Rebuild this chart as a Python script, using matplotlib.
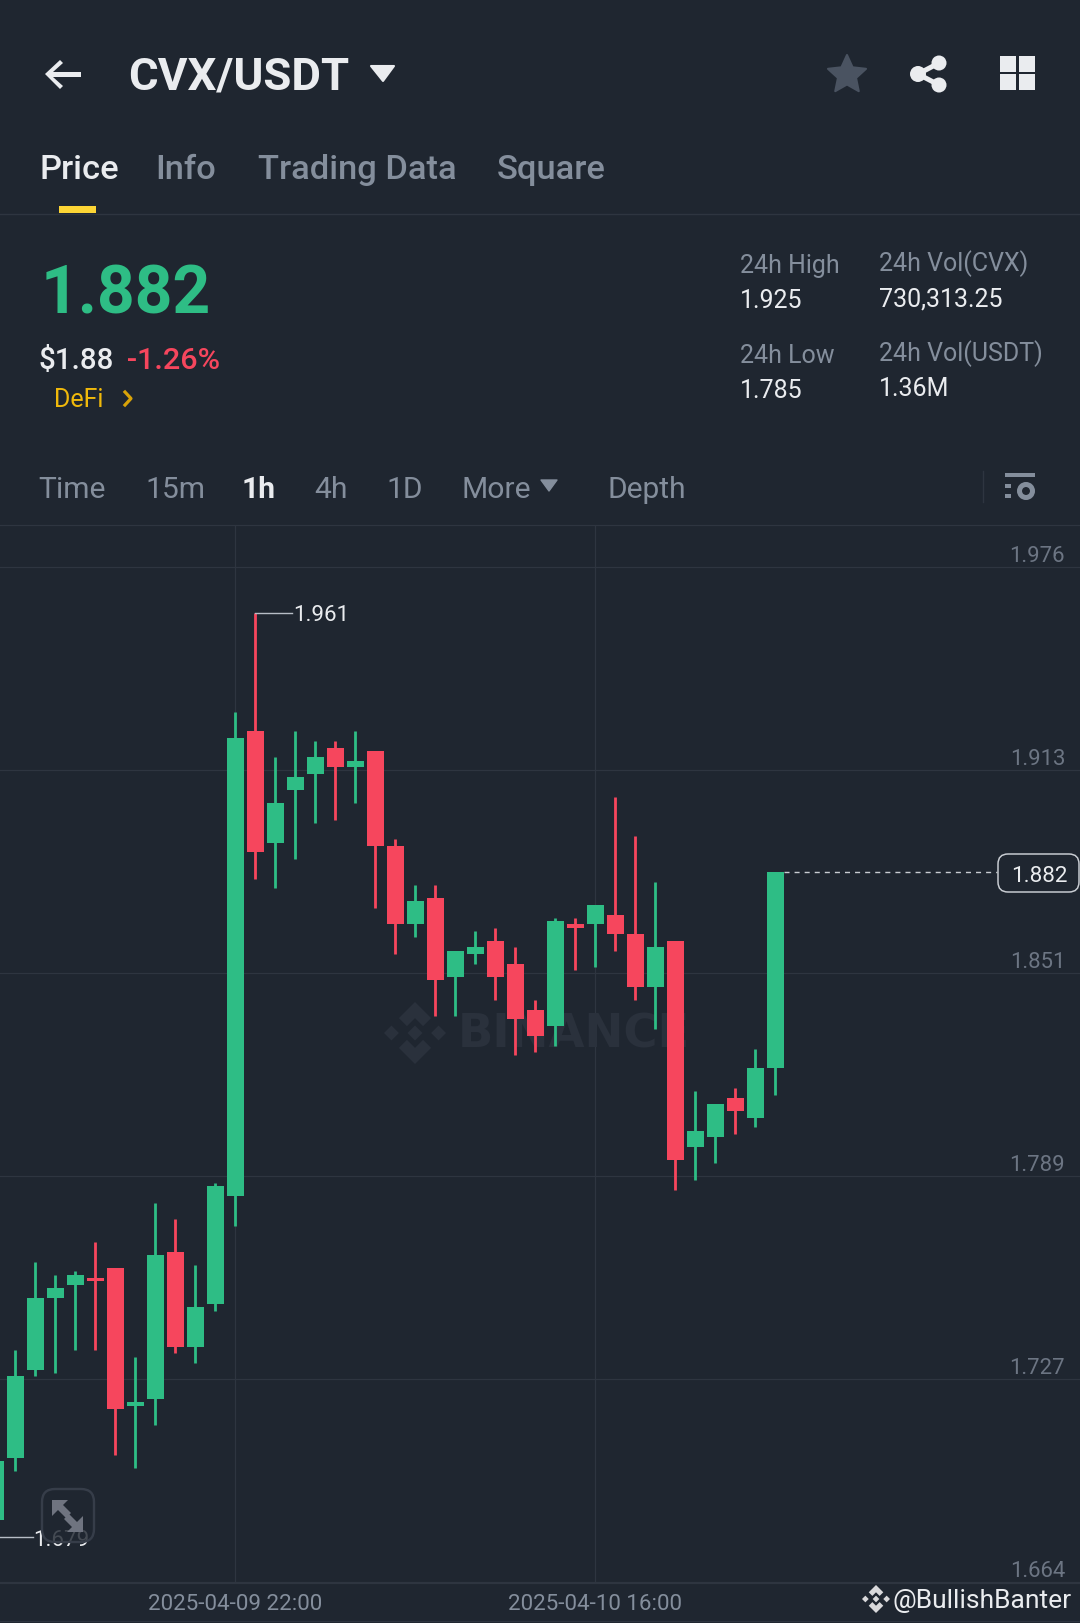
import math
import matplotlib
matplotlib.use("Agg")
import matplotlib.pyplot as plt
from matplotlib.patches import Polygon, FancyBboxPatch, Circle, Rectangle

W, H = 1080, 1623
BG = "#1F2630"
GRID = "#2E3540"
GREEN = "#2EBD85"
RED = "#F6465D"
GREY = "#848E9C"
WHITE = "#EAECEF"
YELLOW = "#FCD535"

# Hourly candles, oldest first
opens  = [1.684,1.703,1.730,1.752,1.756,1.758,1.761,1.719,1.721,1.766,1.737,1.750,1.783,
          1.925,1.891,1.907,1.912,1.920,1.914,1.919,1.890,1.866,1.874,1.850,1.857,1.861,
          1.854,1.840,1.835,1.866,1.866,1.869,1.863,1.847,1.861,1.798,1.801,1.813,1.807,1.822]
closes = [1.702,1.728,1.752,1.755,1.759,1.757,1.718,1.720,1.765,1.737,1.749,1.786,1.923,
          1.888,1.903,1.911,1.917,1.914,1.916,1.890,1.866,1.873,1.849,1.858,1.859,1.850,
          1.837,1.832,1.867,1.865,1.872,1.863,1.847,1.859,1.794,1.803,1.811,1.809,1.822,1.882]
highs  = [1.705,1.736,1.763,1.759,1.760,1.769,1.761,1.734,1.781,1.776,1.762,1.787,1.931,
          1.961,1.917,1.925,1.922,1.922,1.925,1.919,1.892,1.878,1.878,1.858,1.864,1.865,
          1.859,1.843,1.868,1.868,1.872,1.905,1.893,1.879,1.861,1.815,1.811,1.816,1.828,1.882]
lows   = [1.679,1.699,1.728,1.729,1.736,1.736,1.704,1.700,1.713,1.735,1.732,1.748,1.774,
          1.880,1.877,1.886,1.897,1.898,1.903,1.871,1.857,1.862,1.838,1.838,1.854,1.843,
          1.826,1.827,1.829,1.852,1.853,1.858,1.843,1.834,1.785,1.788,1.793,1.802,1.804,1.814]

grid_levels = [1.9751, 1.9131, 1.8511, 1.7891, 1.7271, 1.6651]
y_labels = ["1.976", "1.913", "1.851", "1.789", "1.727", "1.664"]
time_ticks = [12, 30]
time_labels = ["2025-04-09 22:00", "2025-04-10 16:00"]
last_price = 1.882
high_mark = (13, 1.961, "1.961")
low_mark = (0, 1.679, "1.679")

plt.rcParams["font.family"] = ["Roboto", "DejaVu Sans"]
fig = plt.figure(figsize=(W / 100, H / 100), dpi=100, facecolor=BG)

def px(n):
    return n * 0.72

LOGO_SHAPES = [
    [(0, 1), (.52, .48), (.26, .22), (0, .48), (-.26, .22), (-.52, .48)],
    [(0, -1), (.52, -.48), (.26, -.22), (0, -.48), (-.26, -.22), (-.52, -.48)],
    [(0, .24), (.24, 0), (0, -.24), (-.24, 0)],
    [(-.76, .24), (-.52, 0), (-.76, -.24), (-1, 0)],
    [(.76, .24), (1, 0), (.76, -.24), (.52, 0)],
]

# ------- chart axes (top 525 px, bottom 1583 px) -------
ax = fig.add_axes([0, 1 - 1583 / H, 1, (1583 - 525) / H], facecolor=BG, zorder=2)
ax.set_xlim(0.235, 54.235)
ax.set_ylim(1.66484, 1.98799)
for s in ("left", "right"):
    ax.spines[s].set_visible(False)
for s in ("top", "bottom"):
    ax.spines[s].set_color(GRID)
    ax.spines[s].set_linewidth(px(1.2))
ax.set_axisbelow(True)
ax.grid(True, color=GRID, linewidth=px(1.2))
ax.set_xticks(time_ticks, time_labels)
ax.set_yticks(grid_levels, y_labels)
ax.yaxis.tick_right()
ax.tick_params(axis="x", length=0, pad=px(11), labelsize=16.1, labelcolor=GREY)
ax.tick_params(axis="y", length=0, pad=-px(15), labelsize=15.9, labelcolor="#6C7583")
for lab in ax.get_yticklabels():
    lab.set_ha("right")
    lab.set_va("bottom")

def data_x(xp):
    x0, x1 = ax.get_xlim()
    return x0 + xp / W * (x1 - x0)

def data_y(yp):
    y0, y1 = ax.get_ylim()
    return y1 - (yp - 525) / (1583 - 525) * (y1 - y0)

# Watermark behind the candles
xw, yw = data_x(415), data_y(1033)
rx = (ax.get_xlim()[1] - ax.get_xlim()[0]) / W
ry = (ax.get_ylim()[1] - ax.get_ylim()[0]) / (1583 - 525)
for sh in LOGO_SHAPES:
    ax.add_patch(Polygon([(xw + x * 31 * rx, yw + y * 31 * ry) for x, y in sh], closed=True,
                         facecolor="#2A313C", edgecolor="none", zorder=1))
ax.text(data_x(458), data_y(1035), "BINANCE", color="#2A313C", fontsize=px(46.5),
        fontweight="bold", family="DejaVu Sans", va="center", ha="left", zorder=1)

# ------- candles -------
idx = list(range(len(opens)))
colors = [GREEN if c >= o else RED for o, c in zip(opens, closes)]
ax.vlines(idx, lows, highs, colors=colors, linewidth=px(2.8), zorder=3, capstyle="butt")
ax.bar(idx, [abs(c - o) for o, c in zip(opens, closes)],
       bottom=[min(o, c) for o, c in zip(opens, closes)],
       width=0.867, color=colors, linewidth=0, zorder=4)

# last price dashed line
ax.plot([39.45, 50.1], [last_price, last_price], color="#C9CDD3", linewidth=px(1.4),
        dashes=(3.6, 3.6), zorder=3)

# high / low marks
ax.plot([high_mark[0], data_x(292)], [high_mark[1]] * 2, color="#B7BDC6", linewidth=px(1.4), zorder=3)
ax.text(data_x(293), data_y(615), high_mark[2], color=WHITE, fontsize=16, va="center", ha="left", zorder=5)
ax.plot([low_mark[0], data_x(33)], [low_mark[1]] * 2, color="#B7BDC6", linewidth=px(1.4), zorder=3)
ax.text(data_x(33.5), data_y(1540), low_mark[2], color=WHITE, fontsize=16, va="center", ha="left", zorder=5)

# ------- overlay in pixel coordinates -------
ov = fig.add_axes([0, 0, 1, 1], zorder=5)
ov.set_xlim(0, W); ov.set_ylim(H, 0); ov.axis("off"); ov.patch.set_alpha(0)

def T(x, y, s, size, color=WHITE, weight="normal", ha="left", **kw):
    ov.text(x, y, s, fontsize=px(size), color=color, fontweight=weight, ha=ha, va="center", **kw)

# header
ov.add_patch(Polygon([(45, 74), (60, 60), (63, 63), (53, 72), (81, 72), (81, 77), (53, 77), (63, 86), (60, 89)],
                     closed=True, facecolor=WHITE, edgecolor="none"))
T(128, 77, "CVX/USDT", 45.5, weight="bold")
ov.add_patch(Polygon([(371, 66), (394, 66), (383, 81)], closed=True, facecolor=WHITE, edgecolor=WHITE,
                     linewidth=1.5, joinstyle="round"))
star = []
for k in range(10):
    r = 20 if k % 2 == 0 else 9.5
    ang = math.pi / 2 + k * math.pi / 5
    star.append((847 + r * math.cos(ang), 75 - r * math.sin(ang)))
ov.add_patch(Polygon(star, closed=True, facecolor="#4A5361", edgecolor="#4A5361", linewidth=1.5, joinstyle="round"))
pts = [(939, 63), (918, 74), (939, 85)]
ov.plot([p[0] for p in pts], [p[1] for p in pts], color=WHITE, lw=px(5))
for p, r in zip(pts, (7.5, 8, 7.5)):
    ov.add_patch(Circle(p, r, facecolor=WHITE, edgecolor="none"))
for x0 in (1000, 1019):
    for y0 in (56, 74):
        ov.add_patch(Rectangle((x0, y0), 15.5, 15.5, facecolor=WHITE, edgecolor="none"))

# tabs
T(39, 170, "Price", 34.5, weight="medium")
T(155, 170, "Info", 34.5, GREY, "medium")
T(258, 170, "Trading Data", 34.5, GREY, "medium")
T(497, 170, "Square", 34.5, GREY, "medium")
ov.add_patch(Rectangle((59, 206), 37, 7, facecolor=YELLOW, edgecolor="none"))
ov.plot([0, W], [213.5, 213.5], color=GRID, lw=px(1.4))

# price block
T(41, 296, "1.882", 66, GREEN, "bold")
T(39, 361, "$1.88", 29.5, WHITE, "medium")
T(127, 361, "-1.26%", 30.5, RED, "medium")
T(54, 400, "DeFi", 25, "#F0B90B")
ov.plot([125, 131, 125], [392, 398.5, 405], color="#D9A308", lw=px(3.2))
T(740, 266, "24h High", 25, GREY)
T(740, 301, "1.925", 25, WHITE)
T(740, 356, "24h Low", 25, GREY)
T(740, 391, "1.785", 25, WHITE)
T(879, 264, "24h Vol(CVX)", 25, GREY)
T(879, 299, "730,313.25", 25, WHITE)
T(879, 354, "24h Vol(USDT)", 25, GREY)
T(879, 389, "1.36M", 25, WHITE)

# interval bar
for x, s in [(38, "Time"), (145, "15m"), (314, "4h"), (386, "1D"), (462, "More"), (608, "Depth")]:
    T(x, 490, s, 30, GREY)
T(242, 490, "1h", 30, WHITE, "bold")
ov.add_patch(Polygon([(541, 480), (557, 480), (549, 491)], closed=True, facecolor=GREY, edgecolor=GREY,
                     linewidth=1, joinstyle="round"))
ov.plot([983, 983], [471, 502], color=GRID, lw=px(1.4))
ov.add_patch(Rectangle((1005, 473), 30, 4, facecolor=GREY, edgecolor="none"))
ov.add_patch(Rectangle((1005, 484), 6, 4, facecolor=GREY, edgecolor="none"))
ov.add_patch(Rectangle((1005, 494), 6, 4, facecolor=GREY, edgecolor="none"))
ov.add_patch(Circle((1026, 491), 6.5, facecolor="none", edgecolor=GREY, lw=px(5)))

# last price tag
ov.add_patch(FancyBboxPatch((998, 854), 81, 38, boxstyle="round,pad=0,rounding_size=10",
                            facecolor=BG, edgecolor="#C9CDD3", lw=px(1.5)))
T(1039, 877, "1.882", 22.5, WHITE, ha="center")

# expand button
ov.add_patch(FancyBboxPatch((42, 1489), 52, 53, boxstyle="round,pad=0,rounding_size=13",
                            facecolor=BG, alpha=0.82, edgecolor="none"))
ov.add_patch(FancyBboxPatch((42, 1489), 52, 53, boxstyle="round,pad=0,rounding_size=13",
                            facecolor="none", edgecolor="#363D49", lw=px(2.4)))
ARW = "#6F7480"
ov.add_patch(Polygon([(52, 1500), (68, 1500), (63, 1505), (71, 1513), (66, 1518), (58, 1510), (52, 1516)],
                     closed=True, facecolor=ARW, edgecolor="none"))
ov.add_patch(Polygon([(83, 1532), (67, 1532), (72, 1527), (64, 1519), (69, 1514), (77, 1522), (83, 1516)],
                     closed=True, facecolor=ARW, edgecolor="none"))

# bottom
ov.plot([0, W], [1620.7, 1620.7], color=GRID, lw=px(1.2))
for sh in LOGO_SHAPES:
    ov.add_patch(Polygon([(876 + x * 14, 1599 + y * 14) for x, y in sh], closed=True,
                         facecolor="#D9D9DB", edgecolor="none", zorder=6))
T(893, 1601, "@BullishBanter", 26.4, WHITE, zorder=6)

fig.savefig("out.png", dpi=100, facecolor=BG)
